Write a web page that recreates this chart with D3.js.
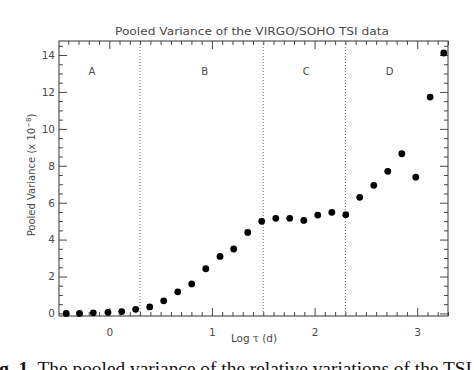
<!DOCTYPE html>
<html>
<head>
<meta charset="utf-8">
<script src="https://cdn.jsdelivr.net/npm/d3@7"></script>
<style>
  html, body { margin: 0; padding: 0; background: #fff; overflow: hidden; }
  svg { display: block; }
  .lbl { font-family: "DejaVu Sans", sans-serif; fill: #4a4a4a; }
</style>
</head>
<body>
<svg id="chart" width="474" height="370"></svg>
<script>
// log tau (d) and pooled variance (x 10^-8)
const logTau = [-0.42, -0.29, -0.156, -0.013, 0.121, 0.257, 0.394, 0.53, 0.667, 0.803,
  0.94, 1.079, 1.212, 1.349, 1.485, 1.622, 1.758, 1.895, 2.031, 2.168,
  2.304, 2.44, 2.577, 2.713, 2.85, 2.986, 3.126, 3.259];
const pooledVar = [0.0, 0.0, 0.03, 0.06, 0.1, 0.22, 0.35, 0.68, 1.17, 1.6,
  2.42, 3.09, 3.49, 4.39, 4.99, 5.15, 5.15, 5.04, 5.33, 5.48,
  5.35, 6.29, 6.94, 7.7, 8.65, 7.38, 11.72, 14.11];
const boundaries = [0.3, 1.5, 2.3];
const regions = ["A", "B", "C", "D"];
const regionX = [-0.17, 0.93, 1.92, 2.73];
const xTicks = [0, 1, 2, 3];
const yTicks = [0, 2, 4, 6, 8, 10, 12, 14];

const svg = d3.select("#chart");
const L = 59, R = 448, T = 41, B = 316;

const x = d3.scaleLinear().domain([-0.49, 3.3]).range([L, R]);
const y = d3.scaleLinear().domain([-0.14, 14.76]).range([B, T]);

const ink = "#333";

// axes: ticks point inward on all four sides
const xMinor = d3.range(-4, 34).map((i) => i / 10).filter((v) => !xTicks.includes(v));
const yMinor = d3.range(0, 30).map((i) => i / 2).filter((v) => !yTicks.includes(v));

function axisGroup(axis, tx, ty) {
  const g = svg.append("g").attr("transform", `translate(${tx},${ty})`).call(axis);
  g.select(".domain").remove();
  g.selectAll("line").attr("stroke", ink).attr("stroke-width", 0.9);
  return g;
}

axisGroup(d3.axisBottom(x).tickValues(xMinor).tickSize(-4).tickFormat(""), 0, B);
axisGroup(d3.axisTop(x).tickValues(xMinor).tickSize(-4).tickFormat(""), 0, T);
axisGroup(d3.axisTop(x).tickValues(xTicks).tickSize(-8).tickFormat(""), 0, T);
const xb = axisGroup(d3.axisBottom(x).tickValues(xTicks).tickSize(-8).tickPadding(13).tickFormat(d3.format("d")), 0, B);
xb.selectAll("text").attr("class", "lbl").attr("font-size", 10.5).attr("fill", "#4a4a4a");

axisGroup(d3.axisLeft(y).tickValues(yMinor).tickSize(-4).tickFormat(""), L, 0);
axisGroup(d3.axisRight(y).tickValues(yMinor).tickSize(-4).tickFormat(""), R, 0);
axisGroup(d3.axisRight(y).tickValues(yTicks).tickSize(-8).tickFormat(""), R, 0);
const yl = axisGroup(d3.axisLeft(y).tickValues(yTicks).tickSize(-8).tickPadding(4), L, 0);
yl.selectAll("text").attr("class", "lbl").attr("font-size", 10.5).attr("fill", "#4a4a4a");

svg.append("rect")
  .attr("x", L).attr("y", T).attr("width", R - L).attr("height", B - T)
  .attr("fill", "none").attr("stroke", ink).attr("stroke-width", 1);

// region boundaries
svg.append("g").selectAll("line").data(boundaries).join("line")
  .attr("x1", (d) => x(d)).attr("x2", (d) => x(d))
  .attr("y1", T).attr("y2", B)
  .attr("stroke", "#666").attr("stroke-width", 1)
  .attr("stroke-dasharray", "1,2");

svg.append("g").selectAll("text").data(regions).join("text")
  .attr("class", "lbl")
  .attr("x", (d, i) => x(regionX[i])).attr("y", 75)
  .attr("text-anchor", "middle").attr("font-size", 10)
  .text((d) => d);

// points
svg.append("g").selectAll("circle").data(logTau).join("circle")
  .attr("cx", (d) => x(d))
  .attr("cy", (d, i) => y(pooledVar[i]))
  .attr("r", 3.4)
  .attr("fill", "#000");

// title and axis labels
svg.append("text").attr("class", "lbl")
  .attr("x", 252).attr("y", 35).attr("text-anchor", "middle")
  .attr("font-size", 11).attr("textLength", 274).attr("lengthAdjust", "spacingAndGlyphs")
  .text("Pooled Variance of the VIRGO/SOHO TSI data");

const xt = svg.append("text").attr("class", "lbl")
  .attr("x", 254).attr("y", 342).attr("text-anchor", "middle").attr("font-size", 10.5);
xt.append("tspan").text("Log ");
xt.append("tspan").attr("font-family", "DejaVu Serif").text("τ");
xt.append("tspan").text(" (d)");

const yt = svg.append("text").attr("class", "lbl")
  .attr("transform", "translate(35,175) rotate(-90)")
  .attr("text-anchor", "middle").attr("font-size", 10);
yt.append("tspan").text("Pooled Variance (x 10");
yt.append("tspan").attr("dy", -4).attr("font-size", 7).text("−8");
yt.append("tspan").attr("dy", 4).text(")");

// caption of the page, cut by the bottom edge as in the reference
const cap = svg.append("text")
  .attr("x", -18).attr("y", 375)
  .attr("font-family", "Liberation Serif, serif").attr("font-size", 18).attr("fill", "#111")
  .attr("textLength", 490).attr("lengthAdjust", "spacingAndGlyphs");
cap.append("tspan").attr("font-weight", "bold").text("Fig. 1.");
cap.append("tspan").text(" The pooled variance of the relative variations of the TSI");
</script>
</body>
</html>
